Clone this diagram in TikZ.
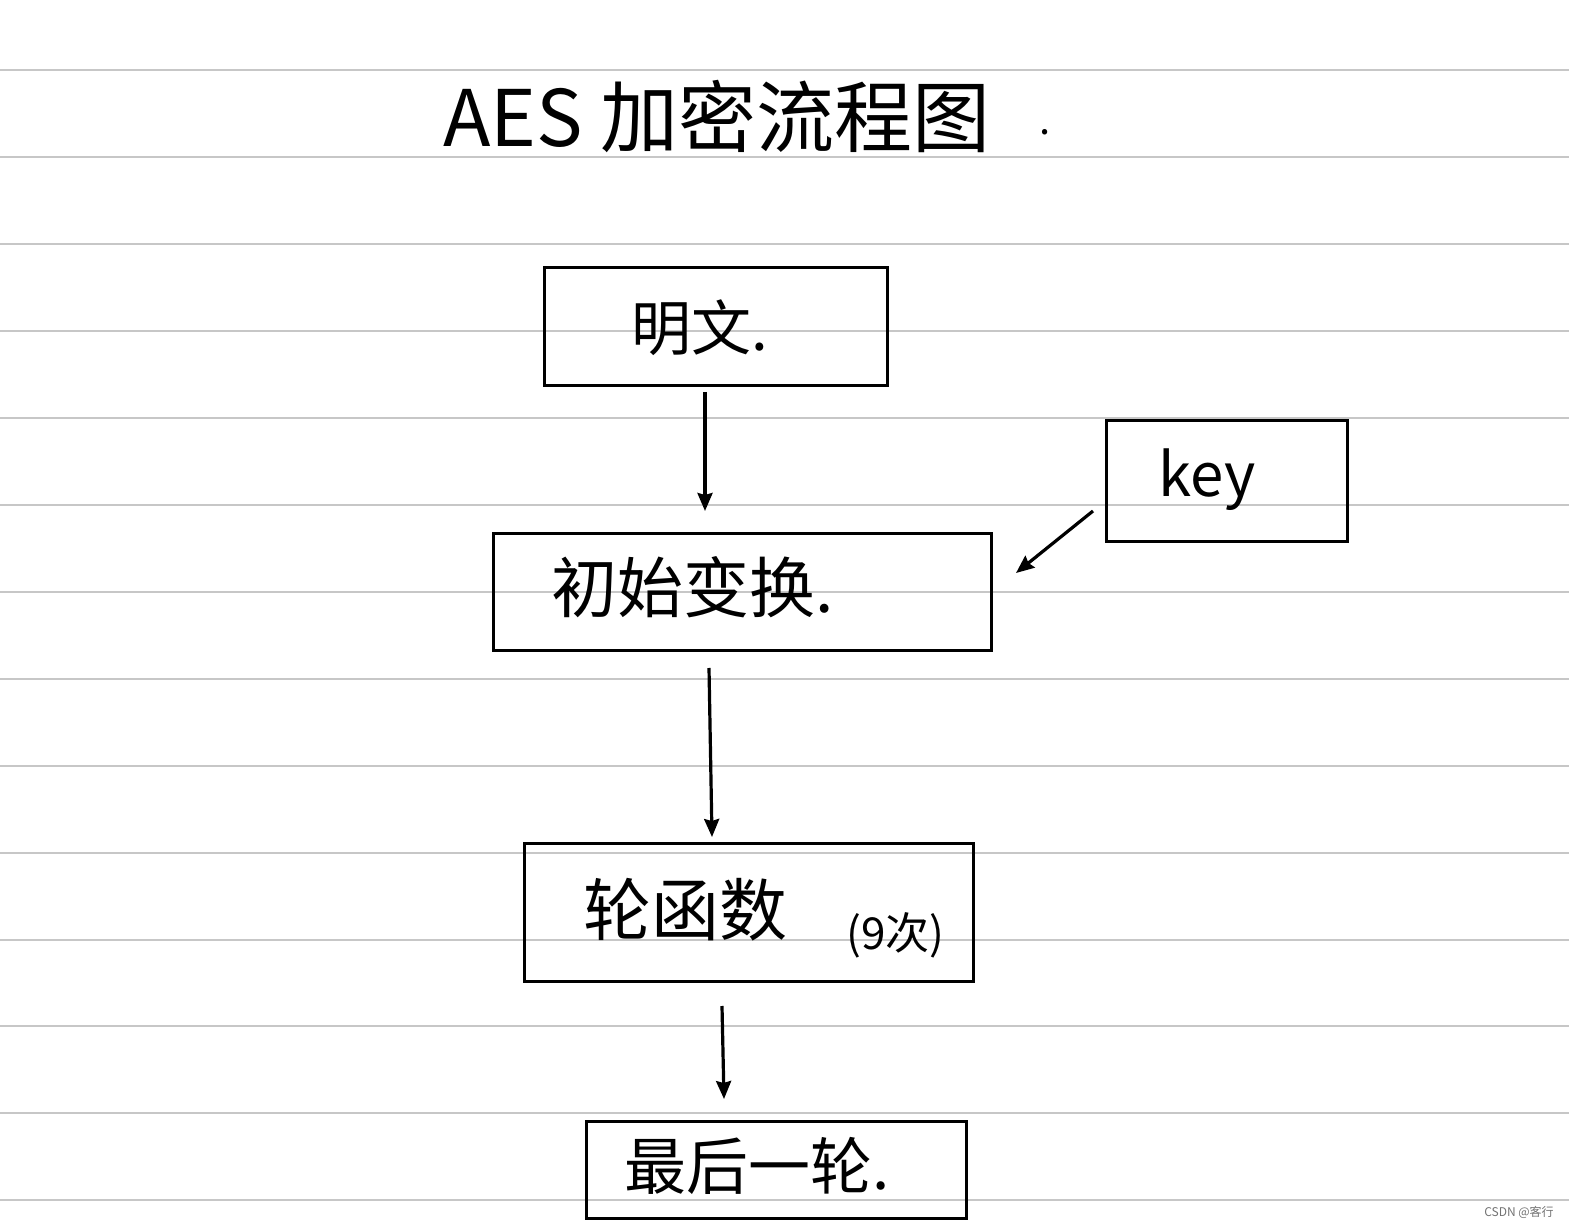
\documentclass[tikz,border=0pt]{standalone}
\usepackage{fontspec}
\setmainfont{Noto Sans CJK SC}
\usetikzlibrary{arrows.meta}
\begin{document}
\begin{tikzpicture}[x=0.5pt,y=-0.5pt,
  ruled/.style={draw=black!22,line width=1pt},
  boxnode/.style={draw=black,line width=1.5pt,rectangle,inner sep=0pt,anchor=north west},
  lbl/.style={inner sep=0pt,font=\fontsize{30}{32}\selectfont},
  arr/.style={line width=1.6pt,-{Stealth[length=9pt,width=7.5pt,inset=1pt]}}]
\useasboundingbox[fill=white] (0,0) rectangle (1569,1229);
% ruled paper lines
\foreach \k in {0,...,13} {
  \draw[ruled] (0,{70+86.95*\k}) -- (1569,{70+86.95*\k});
}
% title
\node[inner sep=0pt,font=\fontsize{39}{42}\selectfont] (title) at (717,117) {AES 加密流程图};
\node[inner sep=0pt,font=\fontsize{20}{22}\selectfont] (tdot) at (1045,132) {.};
% boxes
\node[boxnode,minimum width=171.5pt,minimum height=59pt] (mw) at (543,266) {};
\node[boxnode,minimum width=120.5pt,minimum height=60.5pt] (key) at (1105,419) {};
\node[boxnode,minimum width=249pt,minimum height=58.5pt] (init) at (492,532) {};
\node[boxnode,minimum width=224.5pt,minimum height=69pt] (round) at (523,842) {};
\node[boxnode,minimum width=190pt,minimum height=48.5pt] (last) at (585,1120) {};
% labels
\node[lbl] (tmw) at (700,328) {明文.};
\node[lbl,font=\fontsize{30}{32}\selectfont] (tkey) at (1207,480) {key};
\node[lbl,font=\fontsize{33}{35}\selectfont] (tinit) at (693,587) {初始变换.};
\node[lbl,font=\fontsize{34}{36}\selectfont,anchor=west] (tround) at (583,910) {轮函数};
\node[lbl,font=\fontsize{22}{24}\selectfont,anchor=west] (tnine) at (846,935) {(9次)};
\node[lbl,font=\fontsize{31}{33}\selectfont] (tlast) at (757,1166) {最后一轮.};
% arrow end points
\coordinate (a1s) at (705,392);
\coordinate (a1e) at (705,511);
\coordinate (a2s) at (1093,511);
\coordinate (a2e) at (1016,573);
\coordinate (a3s) at (709,668);
\coordinate (a3e) at (712,837);
\coordinate (a4s) at (722,1006);
\coordinate (a4e) at (724,1099);
\draw[arr] (a1s) -- (a1e);
\draw[arr] (a2s) -- (a2e);
\draw[arr] (a3s) -- (a3e);
\draw[arr] (a4s) -- (a4e);
% watermark
\node[inner sep=0pt,text=black!55,font=\fontsize{6}{7}\selectfont] (wm) at (1519,1212) {CSDN @客行};
\end{tikzpicture}
\end{document}
